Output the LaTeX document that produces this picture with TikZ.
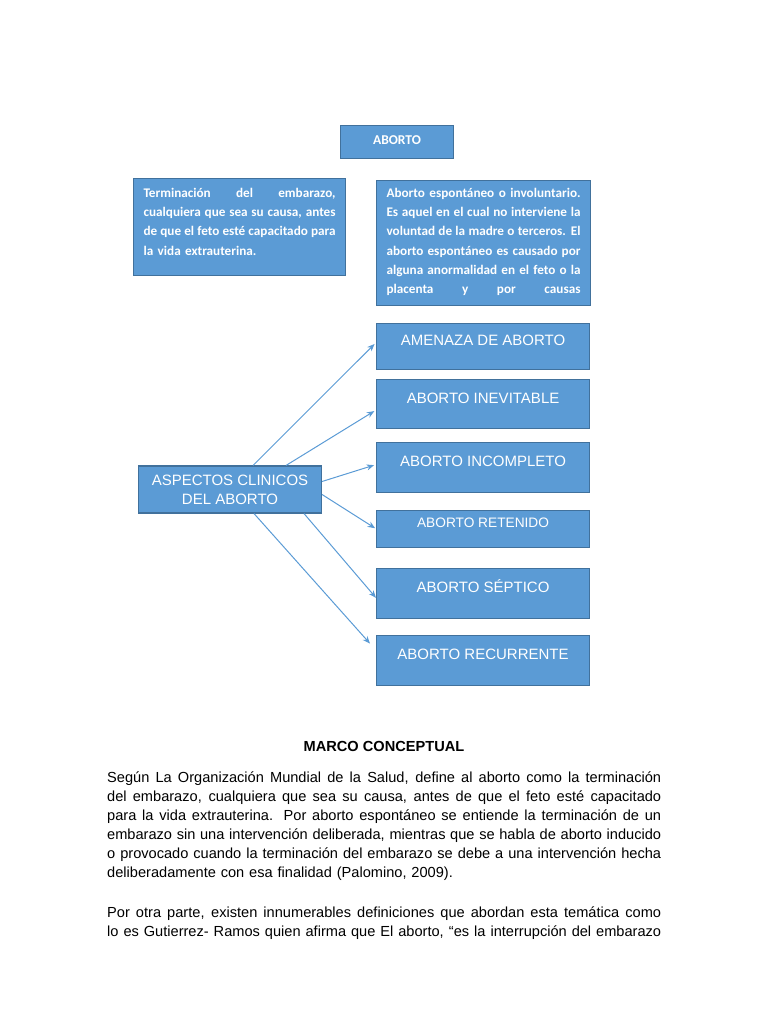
\documentclass[tikz,border=0pt]{standalone}
\usepackage{fontspec}
\setmainfont{Liberation Sans}
\newfontfamily\arialf{Liberation Sans}
\newfontfamily\calif{Carlito}
\usetikzlibrary{arrows.meta,positioning}

\definecolor{boxfill}{HTML}{5B9BD5}
\definecolor{boxline}{HTML}{41719C}
\definecolor{linkblue}{HTML}{5B9BD5}

\newcommand{\jline}[2]{{\spaceskip=0pt\xspaceskip=0pt\makebox[#1][s]{#2}}}

\tikzset{
  bluebox/.style={draw=boxline, fill=boxfill, line width=1.1pt, text=white, inner sep=0pt},
  notebox/.style={bluebox, anchor=north west, align=left, inner xsep=10pt,
    font=\calif\bfseries\fontsize{13.2}{19.2}\selectfont},
  optbox/.style 2 args={bluebox, minimum width=213pt, align=center,
    font=\arialf\fontsize{15}{18}\selectfont, text height=#1, text depth=#2},
  link/.style={-{Stealth[length=7.5pt,width=6pt]}, draw=linkblue, line width=1pt}
}

\begin{document}
\begin{tikzpicture}[x=1pt,y=-1pt]
  \useasboundingbox (0,0) rectangle (768,1024);

  % mapa superior
  \node[bluebox, minimum width=113pt, text height=9pt, text depth=4pt,
        minimum height=33pt, font=\calif\bfseries\fontsize{13.5}{16}\selectfont]
        (aborto) at (397,142) {ABORTO};

  \node[notebox, minimum width=212pt, text width=192pt, text height=19pt, text depth=78pt]
        (defin) at (133,178)
        {\jline{192pt}{Terminación del embarazo,}\\
         \jline{192pt}{cualquiera que sea su causa, antes}\\
         \jline{192pt}{de que el feto esté capacitado para}\\
         la vida extrauterina.};

  \node[notebox, minimum width=213pt, text width=194pt, text height=17pt, text depth=108pt]
        (espont) at (376,180)
        {\jline{194pt}{Aborto espontáneo o involuntario.}\\
         \jline{194pt}{Es aquel en el cual no interviene la}\\
         \jline{194pt}{voluntad de la madre o terceros. El}\\
         \jline{194pt}{aborto espontáneo es causado por}\\
         \jline{194pt}{alguna anormalidad en el feto o la}\\
         \jline{194pt}{placenta \hfill y \hfill por \hfill causas}};

  % aspectos clinicos
  \node[bluebox, minimum width=183pt, minimum height=47pt, align=center,
        font=\arialf\fontsize{15}{19}\selectfont]
        (clin) at (230,489.5) {ASPECTOS CLINICOS\\DEL ABORTO};

  \node[optbox={22.4pt}{23.6pt}, anchor=north west] (amen) at (376,323) {AMENAZA DE ABORTO};
  \node[optbox={23.5pt}{25.5pt}, below=8.9pt of amen] (inev) {ABORTO INEVITABLE};
  \node[optbox={23.5pt}{26.5pt}, below=12.9pt of inev] (incomp) {ABORTO INCOMPLETO};
  \node[optbox={16.5pt}{20pt}, below=16.9pt of incomp,
        font=\arialf\fontsize{13.7}{16}\selectfont] (reten) {ABORTO RETENIDO};
  \node[optbox={24pt}{26.5pt}, below=19.9pt of reten] (septi) {ABORTO SÉPTICO};
  \node[optbox={24pt}{26.5pt}, below=15.4pt of septi] (recur) {ABORTO RECURRENTE};

  \draw[link, shorten >=2pt] ([xshift=23pt]clin.north) -- ([yshift=4pt]amen.west);
  \draw[link, shorten >=2pt] ([xshift=56pt]clin.north) -- ([yshift=-6pt]inev.west);
  \draw[link, shorten >=2pt] ([yshift=8pt]clin.east) -- ([yshift=3pt]incomp.west);
  \draw[link, shorten >=1pt] ([yshift=-5pt]clin.east) -- (reten.west);
  \draw[link] ([xshift=74pt]clin.south) -- ([yshift=-4.5pt]septi.west);
  \draw[link, shorten >=9pt] ([xshift=24pt]clin.south) -- ([yshift=10pt]recur.west);

  % texto
  \node[font=\arialf\bfseries\fontsize{14.6}{18}\selectfont, anchor=base]
        (titulo) at (384,751) {MARCO CONCEPTUAL};

  \node[anchor=north west, inner sep=0pt, text width=554pt, align=left,
        text height=12pt, font=\arialf\fontsize{14.6}{19}\selectfont]
        (parrafo) at (107,770)
        {\jline{554pt}{Según La Organización Mundial de la Salud, define al aborto como la terminación}\\
         \jline{554pt}{del embarazo, cualquiera que sea su causa, antes de que el feto esté capacitado}\\
         \jline{554pt}{para la vida extrauterina. Por aborto espontáneo se entiende la terminación de un}\\
         \jline{554pt}{embarazo sin una intervención deliberada, mientras que se habla de aborto inducido}\\
         \jline{554pt}{o provocado cuando la terminación del embarazo se debe a una intervención hecha}\\
         deliberadamente con esa finalidad (Palomino, 2009).\\[21pt]
         \jline{554pt}{Por otra parte, existen innumerables definiciones que abordan esta temática como}\\
         \jline{554pt}{lo es Gutierrez- Ramos quien afirma que El aborto, “es la interrupción del embarazo}};

\end{tikzpicture}
\end{document}
